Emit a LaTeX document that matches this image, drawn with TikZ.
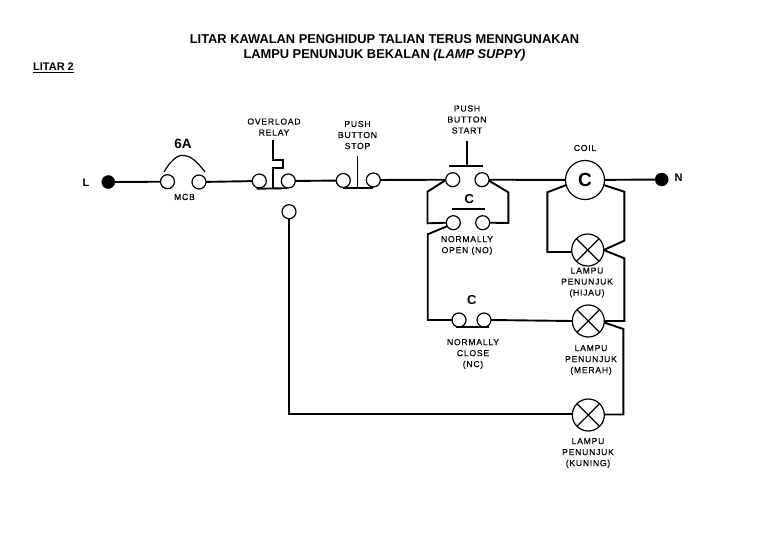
\documentclass[tikz,border=0pt]{standalone}
\usepackage{fontspec}
\setmainfont{Liberation Sans}
\newfontfamily\lab[LetterSpace=8,FakeBold=0.25]{Liberation Sans}
\tikzset{
 wire/.style={line width=1.9pt,line join=miter},
 thinw/.style={line width=1.2pt},
 term/.style={circle,draw,line width=1.2pt,fill=white,minimum size=14pt,inner sep=0pt,outer sep=0pt},
 dot/.style={circle,fill=black,draw=black,minimum size=13pt,inner sep=0pt,outer sep=0pt},
 lamp/.style={circle,draw,line width=1.2pt,fill=white,minimum size=32pt,inner sep=0pt,outer sep=0pt},
 small/.style={font=\lab\fontsize{8.7}{11}\selectfont,align=center,inner sep=0pt},
 title/.style={font=\bfseries\fontsize{12.85}{15}\selectfont,align=center,inner sep=0pt},
 letter/.style={font=\bfseries\fontsize{11}{13}\selectfont,inner sep=0pt},
 contact/.style={font=\bfseries\fontsize{13}{15}\selectfont,inner sep=0pt}
}
\begin{document}
\begin{tikzpicture}[x=1pt,y=-1pt]
\useasboundingbox (0,0) rectangle (768,543);
\node[title] (ttl) at (384.5,47.5) {LITAR KAWALAN PENGHIDUP TALIAN TERUS MENNGUNAKAN\\LAMPU PENUNJUK BEKALAN \textit{(LAMP SUPPY)}};
\node[font=\bfseries\fontsize{11}{12}\selectfont,inner sep=0pt] (lit) at (53.5,68) {\underline{LITAR 2}};
% terminals
\node[dot] (L) at (108.3,182) {};
\node[dot] (N) at (661.7,179.5) {};
\node[term] (m1) at (167.5,181.7) {};
\node[term] (m2) at (199,182) {};
\node[term] (o1) at (259.3,181) {};
\node[term] (o2) at (288.3,181) {};
\node[term] (o3) at (289,211.7) {};
\node[term] (s1) at (343.3,180.5) {};
\node[term] (s2) at (373.3,180) {};
\node[term] (b1) at (452.7,179.7) {};
\node[term] (b2) at (482,179.7) {};
\node[term] (n1) at (453.3,222.7) {};
\node[term] (n2) at (482.7,222.7) {};
\node[term] (c1) at (459,320) {};
\node[term] (c2) at (484,320) {};
\node[circle,draw,line width=1.2pt,minimum size=39pt,inner sep=0pt,outer sep=0pt] (coil) at (585,180) {\fontsize{19}{20}\selectfont\bfseries C};
\node[lamp] (lh) at (587.7,250) {};
\node[lamp] (lm) at (588.3,321) {};
\node[lamp] (lk) at (588.3,415) {};
\foreach \n in {lh,lm,lk}{
 \draw[thinw] (\n.45) -- (\n.225);
 \draw[thinw] (\n.135) -- (\n.315);
}
% main wires
\draw[wire] (L) -- (m1);
\draw[wire] (m2) -- (o1);
\draw[wire] (o2) -- (s1);
\draw[wire] (s2) -- (b1);
\draw[wire] (b2) -- (coil);
\draw[wire] (coil) -- (N);
% start branches
\coordinate (a1) at (427.5,191.7);
\coordinate (a2) at (427.5,223.3);
\coordinate (a3) at (508.3,192.3);
\coordinate (a4) at (508.3,223);
\coordinate (a5) at (427.7,234.3);
\coordinate (a6) at (427.7,320);
\draw[wire] (b1.west) ++(-1,1) -- (a1) -- (a2) -- (n1.west);
\draw[wire] (b2.east) ++(0,1) -- (a3) -- (a4) -- (n2.east);
\draw[wire] (n1.210) -- (a5) -- (a6) -- (c1.west);
\draw[wire] (c2.east) -- (lm.west);
% coil branches
\coordinate (d1) at (547.3,192.3);
\coordinate (d2) at (547.3,252);
\coordinate (d3) at (624.3,191.7);
\coordinate (d4) at (624.3,240.7);
\coordinate (d5) at (624.3,258.3);
\coordinate (d6) at (624.3,321);
\coordinate (d7) at (623.3,329);
\coordinate (d8) at (623.3,414.5);
\coordinate (d9) at (289,414);
\draw[wire] (coil.195) -- (d1) -- (d2) -- (lh.west|-d2);
\draw[wire] (coil.345) -- (d3) -- (d4) -- (lh.east);
\draw[wire] (lh.east) -- (d5) -- (d6) -- (lm.east|-d6);
\draw[wire] (lm.east) ++(0,1.5) -- (d7) -- (d8) -- (lk.east|-d8);
\draw[wire] (o3) -- (d9) -- (lk.west|-d9);
% contact bars
\coordinate (e1) at (256.7,188.7);
\coordinate (e2) at (287.3,188.2);
\draw[wire] (e1) -- (e2);
\coordinate (f1) at (272.7,140);
\coordinate (f2) at (272.7,160);
\coordinate (f3) at (282.7,160);
\coordinate (f4) at (282.7,168);
\coordinate (f5) at (272.7,168);
\coordinate (f6) at (272.7,188.5);
\draw[wire] (f1) -- (f2) -- (f3) -- (f4) -- (f5) -- (f6);
\coordinate (g1) at (342.7,188);
\coordinate (g2) at (373,188);
\coordinate (g3) at (357.5,155.7);
\coordinate (g4) at (357.5,188);
\draw[wire] (g1) -- (g2);
\draw[wire] (g3) -- (g4);
\coordinate (h1) at (449,165.7);
\coordinate (h2) at (482.7,165.7);
\coordinate (h3) at (466.7,140.7);
\coordinate (h4) at (466.7,165.7);
\draw[wire] (h1) -- (h2);
\draw[wire] (h3) -- (h4);
\coordinate (i1) at (452.3,209);
\coordinate (i2) at (485,209);
\draw[wire] (i1) -- (i2);
\coordinate (j1) at (456,327.3);
\coordinate (j2) at (488.7,327.3);
\draw[wire] (j1) -- (j2);
% MCB arc
\coordinate (k1) at (164,172);
\coordinate (k2) at (205,172);
\draw[thinw] (k1) .. controls (174,155) and (181,155) .. (184,155.5) .. controls (190,156) and (196,160) .. (k2);
% labels
\node[font=\bfseries\fontsize{13.5}{15}\selectfont,inner sep=0pt] (t6a) at (183,144) {6A};
\node[letter] (tL) at (86,182.5) {L};
\node[letter] (tN) at (678.5,178) {N};
\node[small] (tmcb) at (184.5,197) {MCB};
\node[small] (tol) at (274,127) {OVERLOAD\\RELAY};
\node[small] (tstop) at (357.5,135) {PUSH\\BUTTON\\STOP};
\node[small] (tstart) at (467,119.5) {PUSH\\BUTTON\\START};
\node[small] (tcoil) at (585,148) {COIL};
\node[small] (tno) at (467,245.5) {NORMALLY\\OPEN (NO)};
\node[small] (tnc) at (473,354) {NORMALLY\\CLOSE\\(NC)};
\node[small] (th) at (587,282.5) {LAMPU\\PENUNJUK\\(HIJAU)};
\node[small] (tm) at (591,360) {LAMPU\\PENUNJUK\\(MERAH)};
\node[small] (tk) at (588,453) {LAMPU\\PENUNJUK\\(KUNING)};
\node[contact] (cno) at (469.3,198.7) {C};
\node[contact] (cnc) at (471.7,300.5) {C};
\end{tikzpicture}
\end{document}
